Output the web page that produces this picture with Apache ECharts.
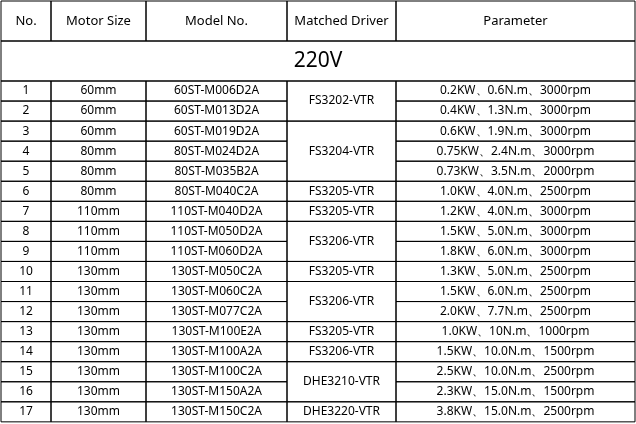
<!DOCTYPE html>
<html>
<head>
<meta charset="utf-8">
<script src="https://cdn.jsdelivr.net/npm/echarts@6/dist/echarts.min.js"></script>
<style>html,body{margin:0;background:#fff}#main{width:636px;height:424px}</style>
</head>
<body>
<div id="main"></div>
<script>
var headers = ['No.', 'Motor Size', 'Model No.', 'Matched Driver', 'Parameter'];
var voltage = '220V';
var motorSizes = ['60mm','60mm','60mm','80mm','80mm','80mm','110mm','110mm','110mm','130mm','130mm','130mm','130mm','130mm','130mm','130mm','130mm'];
var models = ['60ST-M006D2A','60ST-M013D2A','60ST-M019D2A','80ST-M024D2A','80ST-M035B2A','80ST-M040C2A','110ST-M040D2A','110ST-M050D2A','110ST-M060D2A','130ST-M050C2A','130ST-M060C2A','130ST-M077C2A','130ST-M100E2A','130ST-M100A2A','130ST-M100C2A','130ST-M150A2A','130ST-M150C2A'];
// driver groups: [name, first row index, row count]
var drivers = [['FS3202-VTR',0,2],['FS3204-VTR',2,3],['FS3205-VTR',5,1],['FS3205-VTR',6,1],['FS3206-VTR',7,2],['FS3205-VTR',9,1],['FS3206-VTR',10,2],['FS3205-VTR',12,1],['FS3206-VTR',13,1],['DHE3210-VTR',14,2],['DHE3220-VTR',16,1]];
var params = ['0.2KW、0.6N.m、3000rpm','0.4KW、1.3N.m、3000rpm','0.6KW、1.9N.m、3000rpm','0.75KW、2.4N.m、3000rpm','0.73KW、3.5N.m、2000rpm','1.0KW、4.0N.m、2500rpm','1.2KW、4.0N.m、3000rpm','1.5KW、5.0N.m、3000rpm','1.8KW、6.0N.m、3000rpm','1.3KW、5.0N.m、2500rpm','1.5KW、6.0N.m、2500rpm','2.0KW、7.7N.m、2500rpm','1.0KW、10N.m、1000rpm','1.5KW、10.0N.m、1500rpm','2.5KW、10.0N.m、2500rpm','2.3KW、15.0N.m、1500rpm','3.8KW、15.0N.m、2500rpm'];

var colX = [1, 51, 146, 287, 396, 635];
var top0 = 1, headH = 40, voltH = 40, rowH = 20.05;
var bodyTop = top0 + headH + voltH;
var font = '"Microsoft YaHei","Noto Sans","Open Sans",sans-serif';
var els = [];

function cell(x0, x1, y0, y1, txt, size) {
  els.push({ type: 'rect', shape: { x: x0, y: y0, width: x1 - x0, height: y1 - y0 },
    style: { fill: 'none', stroke: '#000', lineWidth: 1 } });
  els.push({ type: 'text', x: (x0 + x1) / 2, y: (y0 + y1) / 2,
    style: { text: txt, fill: '#000', font: size + 'px ' + font, align: 'center', verticalAlign: 'middle' } });
}
function rowY(i) { return bodyTop + i * rowH; }

headers.forEach(function (h, c) { cell(colX[c], colX[c + 1], top0, top0 + headH, h, 13); });
cell(colX[0], colX[5], top0 + headH, bodyTop, voltage, 21);
motorSizes.forEach(function (m, i) {
  cell(colX[0], colX[1], rowY(i), rowY(i + 1), String(i + 1), 12);
  cell(colX[1], colX[2], rowY(i), rowY(i + 1), m, 12);
  cell(colX[2], colX[3], rowY(i), rowY(i + 1), models[i], 12);
  cell(colX[4], colX[5], rowY(i), rowY(i + 1), params[i], 12);
});
drivers.forEach(function (d) {
  cell(colX[3], colX[4], rowY(d[1]), rowY(d[1] + d[2]), d[0], 12);
});

var chart = echarts.init(document.getElementById('main'), null, { renderer: 'canvas' });
chart.setOption({ animation: false, backgroundColor: '#fff', graphic: { elements: els } });
</script>
</body>
</html>
